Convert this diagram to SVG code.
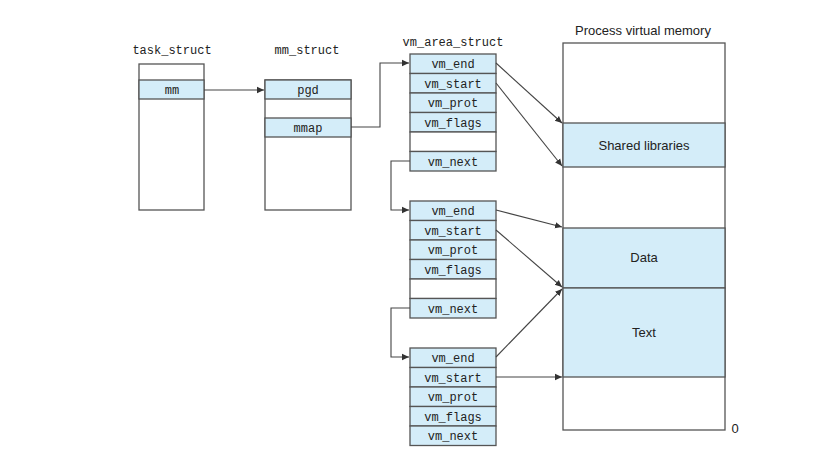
<svg xmlns="http://www.w3.org/2000/svg" width="825" height="451" viewBox="0 0 825 451">
<style>
.b{fill:#fff;stroke:#555;stroke-width:1.3}
.f{fill:#d4edf9;stroke:#555;stroke-width:1.3}
.m{font-family:"Liberation Mono",monospace;font-size:12px;fill:#222;text-anchor:middle}
.s{font-family:"Liberation Sans",sans-serif;font-size:13px;fill:#222;text-anchor:middle}
.c{fill:none;stroke:#444;stroke-width:1.1;marker-end:url(#a)}
</style>
<defs><marker id="a" markerWidth="8" markerHeight="8" refX="7" refY="4" orient="auto" markerUnits="userSpaceOnUse"><path d="M0,0.8 L7,4 L0,7.2z" fill="#333"/></marker></defs>
<rect width="825" height="451" fill="#fff"/>
<g id="task_struct">
<text class="m" x="172" y="54">task_struct</text>
<rect class="b" x="139" y="64" width="65" height="146"/>
<rect class="f" x="139" y="80" width="65" height="19"/><text class="m" x="172" y="94">mm</text>
</g>
<g id="mm_struct">
<text class="m" x="307" y="54">mm_struct</text>
<rect class="b" x="265" y="80" width="86" height="130"/>
<rect class="f" x="265" y="80" width="86" height="19"/><text class="m" x="308" y="94">pgd</text>
<rect class="f" x="265" y="118" width="86" height="19"/><text class="m" x="308" y="132">mmap</text>
</g>
<g id="vma1">
<text class="m" x="453" y="46">vm_area_struct</text>
<rect class="f" x="410" y="54" width="86" height="19.5"/><text class="m" x="453" y="68">vm_end</text>
<rect class="f" x="410" y="73.5" width="86" height="19.5"/><text class="m" x="453" y="88">vm_start</text>
<rect class="f" x="410" y="93" width="86" height="19.5"/><text class="m" x="453" y="107">vm_prot</text>
<rect class="f" x="410" y="112.5" width="86" height="19.5"/><text class="m" x="453" y="127">vm_flags</text>
<rect class="b" x="410" y="132" width="86" height="19.5"/>
<rect class="f" x="410" y="151.5" width="86" height="19.5"/><text class="m" x="453" y="166">vm_next</text>
</g>
<g id="vma2">
<rect class="f" x="410" y="201" width="86" height="19.5"/><text class="m" x="453" y="215">vm_end</text>
<rect class="f" x="410" y="220.5" width="86" height="19.5"/><text class="m" x="453" y="235">vm_start</text>
<rect class="f" x="410" y="240" width="86" height="19.5"/><text class="m" x="453" y="254">vm_prot</text>
<rect class="f" x="410" y="259.5" width="86" height="19.5"/><text class="m" x="453" y="274">vm_flags</text>
<rect class="b" x="410" y="279" width="86" height="19.5"/>
<rect class="f" x="410" y="298.5" width="86" height="19.5"/><text class="m" x="453" y="313">vm_next</text>
</g>
<g id="vma3">
<rect class="f" x="410" y="348" width="86" height="19.5"/><text class="m" x="453" y="362">vm_end</text>
<rect class="f" x="410" y="367.5" width="86" height="19.5"/><text class="m" x="453" y="382">vm_start</text>
<rect class="f" x="410" y="387" width="86" height="19.5"/><text class="m" x="453" y="401">vm_prot</text>
<rect class="f" x="410" y="406.5" width="86" height="19.5"/><text class="m" x="453" y="421">vm_flags</text>
<rect class="f" x="410" y="426" width="86" height="19.5"/><text class="m" x="453" y="440">vm_next</text>
</g>
<g id="pvm">
<text class="s" x="643" y="35">Process virtual memory</text>
<rect class="b" x="563" y="43" width="162" height="387"/>
<rect class="f" x="563" y="123" width="162" height="44"/><text class="s" x="644" y="150">Shared libraries</text>
<rect class="f" x="563" y="228" width="162" height="60"/><text class="s" x="644" y="262">Data</text>
<rect class="f" x="563" y="288" width="162" height="89"/><text class="s" x="644" y="337">Text</text>
<text class="s" x="735" y="433">0</text>
</g>
<g id="connectors">
<path class="c" d="M204,90 H264"/>
<path class="c" d="M351,127 H380 V63 H409"/>
<path class="c" d="M410,161 H391 V210 H409"/>
<path class="c" d="M410,308 H391 V357 H409"/>
<path class="c" d="M496,63 L562,123"/>
<path class="c" d="M496,83 L562,166"/>
<path class="c" d="M496,210 L562,227"/>
<path class="c" d="M496,230 L562,287"/>
<path class="c" d="M496,357 L562,289"/>
<path class="c" d="M496,377 H562"/>
</g>
</svg>
